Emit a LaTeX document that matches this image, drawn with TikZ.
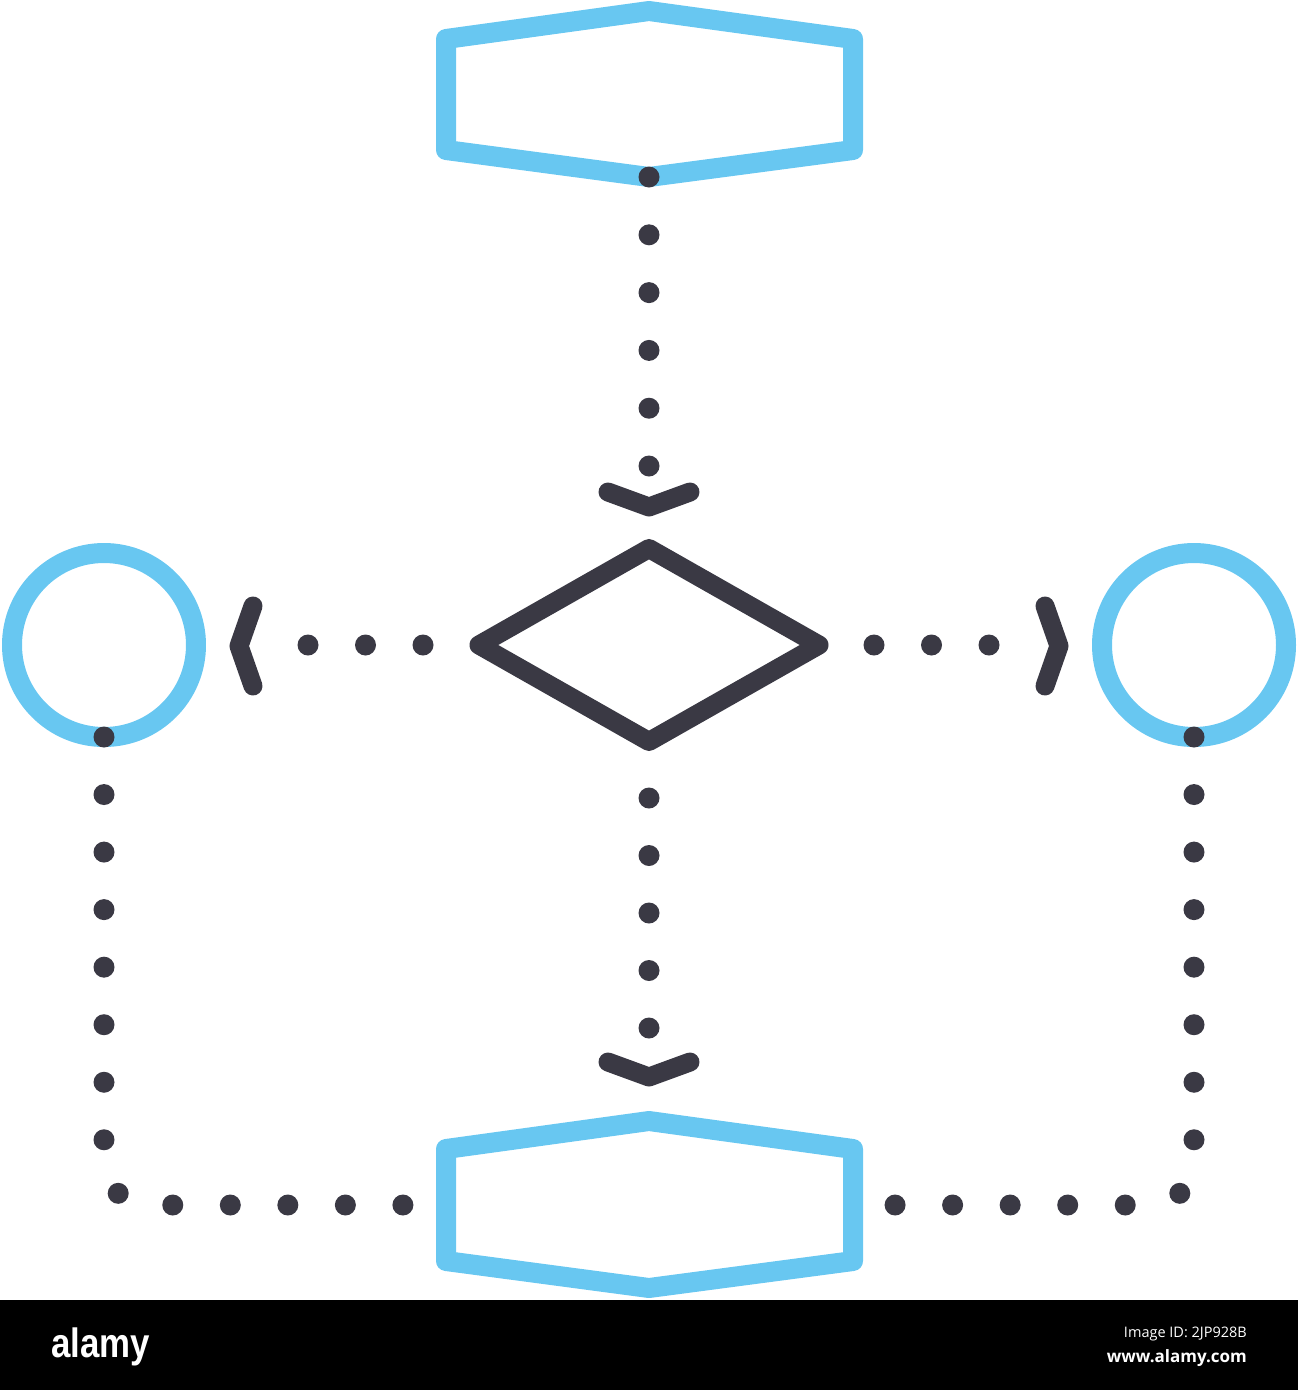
\documentclass[tikz,border=0pt]{standalone}
\usepackage{fontspec}
\setmainfont{Open Sans}
\newfontfamily\logofont{Liberation Sans}
\usetikzlibrary{shapes.geometric}
\definecolor{flowblue}{RGB}{104,199,241}
\definecolor{flowgray}{RGB}{58,57,68}
\begin{document}
\begin{tikzpicture}[x=1pt,y=-1pt,
    blueline/.style={draw=flowblue,line width=20pt,line join=round},
    grayline/.style={draw=flowgray,line width=19pt,line join=round,line cap=round},
    dotline/.style={draw=flowgray,line width=21pt,line cap=round,dash pattern=on 0pt off #1},
    dotline/.default=57.5pt,
    wmark/.style={text=white,inner sep=0pt}]
  \useasboundingbox (0,0) rectangle (1298,1390);
  \fill[black] (0,1300) rectangle (1298,1390);
  \draw[blueline] (446,39) -- (649,11) -- (853,39) -- (853,150) -- (649,177) coordinate (top-s)
     -- (446,150) -- cycle;
  \draw[blueline] (446,1149) -- (649,1121) -- (853,1149) -- (853,1261) -- (649,1288) -- (446,1261) -- cycle;
  \node[blueline,circle,minimum size=184pt,inner sep=0pt,outer sep=0pt] (lcirc) at (104,645) {};
  \node[blueline,circle,minimum size=184pt,inner sep=0pt,outer sep=0pt] (rcirc) at (1194,645) {};
  \node[grayline,diamond,minimum width=340pt,minimum height=193pt,inner sep=0pt,outer sep=0pt] (dec) at (649,645) {};
  \coordinate (top-e) at (649,467);
  \coordinate (l-s) at (423,645);
  \coordinate (l-e) at (307,645);
  \coordinate (r-s) at (874,645);
  \coordinate (r-e) at (990,645);
  \coordinate (mid-s) at (649,798);
  \coordinate (mid-e) at (649,1029);
  \coordinate (lbot) at (404,1205);
  \coordinate (rbot) at (894,1205);
  \draw[dotline=57.8pt] (top-s) -- (top-e);
  \draw[dotline] (l-s) -- (l-e);
  \draw[dotline] (r-s) -- (r-e);
  \draw[dotline] (mid-s) -- (mid-e);
  \draw[dotline=57.54pt,rounded corners=44pt] (lcirc.south) |- (lbot);
  \draw[dotline=57.54pt,rounded corners=44pt] (rcirc.south) |- (rbot);
  \draw[grayline] (608,492) -- (649,507) -- (690,492);
  \draw[grayline] (608,1062) -- (649,1077) -- (690,1062);
  \draw[grayline] (253,606) -- (239,646) -- (253,686);
  \draw[grayline] (1045,606) -- (1059,646) -- (1045,686);
  \node[wmark,anchor=base west,font=\logofont\bfseries\fontsize{41}{41}\selectfont] (logo) at (51,1357) {\scalebox{0.85}[1]{alamy}};
  \node[wmark,anchor=base east,font=\fontsize{14.5}{14.5}\selectfont] (imgid) at (1247,1337) {Image ID: 2JP928B};
  \node[wmark,anchor=base east,font=\bfseries\fontsize{17}{17}\selectfont] (site) at (1247,1362) {www.alamy.com};
\end{tikzpicture}
\end{document}
